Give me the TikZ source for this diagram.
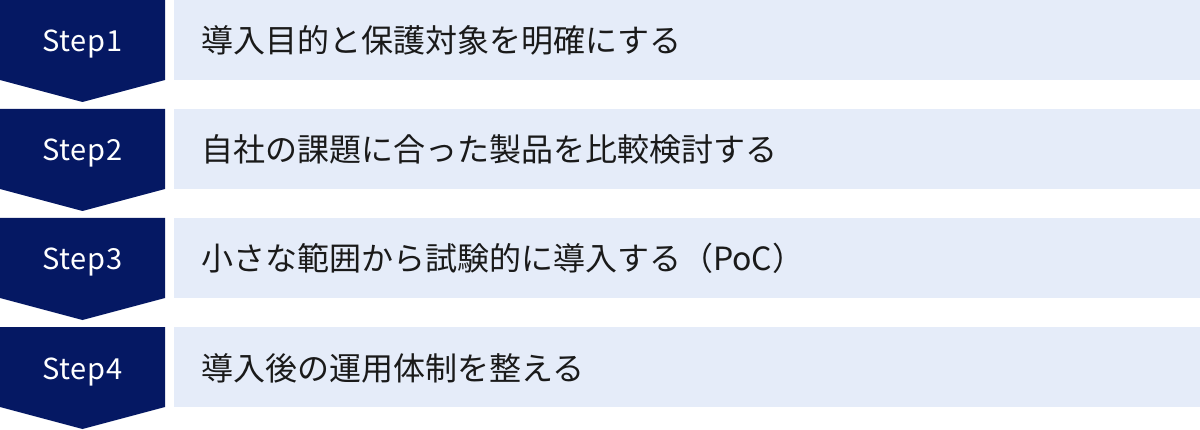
\documentclass[tikz,border=0pt]{standalone}
\usepackage{fontspec}
\usepackage{tikz}
\usetikzlibrary{positioning}
\setmainfont{Noto Sans CJK JP}
\newfontfamily\stepfont[LetterSpace=2]{Noto Sans CJK JP}

\definecolor{navy}{RGB}{5,24,99}
\definecolor{paleblue}{RGB}{229,236,249}
\definecolor{inkgray}{RGB}{26,26,26}

\tikzset{
    steplabel/.style={text=white, anchor=base, inner sep=0pt, font=\stepfont\fontsize{29}{29}\selectfont},
    tasklabel/.style={text=inkgray, anchor=base west, inner sep=0pt, font=\fontsize{32}{32}\selectfont},
}

\begin{document}
\begin{tikzpicture}[x=1pt, y=1pt]

    \useasboundingbox (0,0) rectangle (1200,429);

    \coordinate (row1) at (0,429);
    \coordinate (row2) at (0,320);
    \coordinate (row3) at (0,211);
    \coordinate (row4) at (0,102);

    % step 1
    \path[fill=navy] (row1) -- ++(165,0) -- ++(0,-80) -- ++(-82.5,-22) -- ++(-82.5,22) -- cycle;
    \path[fill=paleblue] (row1) ++(174,0) rectangle ++(1026,-80);
    \path (row1) ++(82.5,-52) node[steplabel] (step1) {Step1};
    \path (row1) ++(201,-53) node[tasklabel] (task1) {導入目的と保護対象を明確にする};

    % step 2
    \path[fill=navy] (row2) -- ++(165,0) -- ++(0,-80) -- ++(-82.5,-22) -- ++(-82.5,22) -- cycle;
    \path[fill=paleblue] (row2) ++(174,0) rectangle ++(1026,-80);
    \path (row2) ++(82.5,-52) node[steplabel] (step2) {Step2};
    \path (row2) ++(201,-53) node[tasklabel] (task2) {自社の課題に合った製品を比較検討する};

    % step 3
    \path[fill=navy] (row3) -- ++(165,0) -- ++(0,-80) -- ++(-82.5,-22) -- ++(-82.5,22) -- cycle;
    \path[fill=paleblue] (row3) ++(174,0) rectangle ++(1026,-80);
    \path (row3) ++(82.5,-52) node[steplabel] (step3) {Step3};
    \path (row3) ++(201,-53) node[tasklabel] (task3) {小さな範囲から試験的に導入する（PoC）};

    % step 4
    \path[fill=navy] (row4) -- ++(165,0) -- ++(0,-80) -- ++(-82.5,-22) -- ++(-82.5,22) -- cycle;
    \path[fill=paleblue] (row4) ++(174,0) rectangle ++(1026,-80);
    \path (row4) ++(82.5,-52) node[steplabel] (step4) {Step4};
    \path (row4) ++(201,-53) node[tasklabel] (task4) {導入後の運用体制を整える};

\end{tikzpicture}
\end{document}
